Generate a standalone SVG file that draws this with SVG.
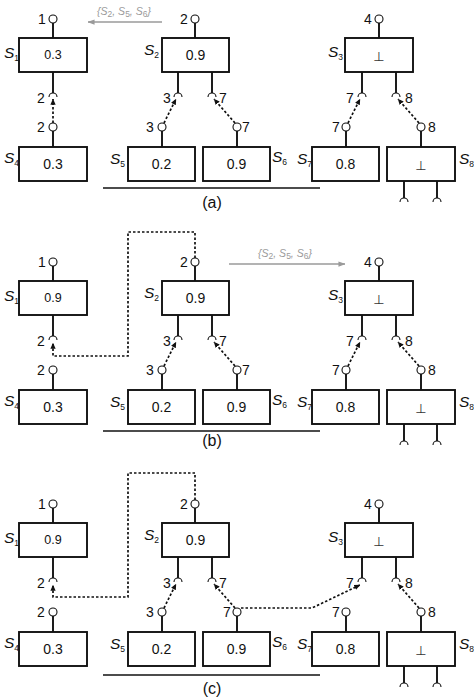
<svg xmlns="http://www.w3.org/2000/svg" width="474" height="700" viewBox="0 0 474 700">
<defs>
<style>
.box{fill:#fff;stroke:#111;stroke-width:1.9}
.wire{stroke:#111;stroke-width:1.9;fill:none}
.sock{fill:#fff;stroke:#111;stroke-width:1.1}
.rec{fill:none;stroke:#111;stroke-width:1.1}
.dot{fill:none;stroke:#111;stroke-width:1.7;stroke-dasharray:2.5 2}
.gray{fill:none;stroke:#9a9a9a;stroke-width:1.5}
.num{font-family:"Liberation Sans",Arial,sans-serif;font-size:14px;fill:#111;text-anchor:middle}
.val{font-family:"Liberation Sans",Arial,sans-serif;font-size:14px;fill:#111;text-anchor:middle}
.val1{font-family:"Liberation Sans",Arial,sans-serif;font-size:12.5px;fill:#111;text-anchor:middle}
.bot{font-family:"DejaVu Sans",sans-serif;font-size:13px;fill:#333;text-anchor:middle}
.sl{font-family:"Liberation Sans",Arial,sans-serif;font-size:15.5px;font-style:italic;fill:#111}
.sub{font-size:8.5px;font-style:normal}
.set{font-family:"Liberation Sans",Arial,sans-serif;font-size:10.5px;font-style:italic;fill:#9a9a9a;text-anchor:middle}
.cap{font-family:"Liberation Sans",Arial,sans-serif;font-size:16px;fill:#111;text-anchor:middle}
.ul{stroke:#111;stroke-width:1.5}
</style>
<marker id="ah" viewBox="0 0 8 8" refX="7.5" refY="4" markerWidth="6" markerHeight="6" markerUnits="userSpaceOnUse" orient="auto"><path d="M0,0.5 L8,4 L0,7.5 Z" fill="#111"/></marker>
<marker id="gh" viewBox="0 0 8 8" refX="7.5" refY="4" markerWidth="7" markerHeight="7" markerUnits="userSpaceOnUse" orient="auto"><path d="M0,1 L8,4 L0,7 Z" fill="#9a9a9a"/></marker>

<g id="n1">
<line class="wire" x1="53" y1="23" x2="53" y2="38"/><circle class="sock" cx="53" cy="19" r="4"/>
<rect class="box" x="19" y="38" width="68" height="34"/>
<line class="wire" x1="53" y1="72" x2="53" y2="93"/><path class="rec" d="M49,97 A4,4 0 0,1 57,97"/>
<text class="num" x="42" y="24">1</text><text class="num" x="41" y="103">2</text>
<text class="sl" x="4" y="58">S<tspan class="sub" dy="3">1</tspan></text>
</g>
<g id="n2">
<line class="wire" x1="195" y1="23" x2="195" y2="38"/><circle class="sock" cx="195" cy="19" r="4"/>
<rect class="box" x="162" y="38" width="67" height="34"/>
<line class="wire" x1="178" y1="72" x2="178" y2="93"/><path class="rec" d="M174,97 A4,4 0 0,1 182,97"/>
<line class="wire" x1="212" y1="72" x2="212" y2="93"/><path class="rec" d="M208,97 A4,4 0 0,1 216,97"/>
<text class="num" x="184" y="24">2</text><text class="num" x="167" y="103">3</text><text class="num" x="223" y="103">7</text>
<text class="sl" x="144" y="55">S<tspan class="sub" dy="3">2</tspan></text>
<text class="val" x="195.5" y="60">0.9</text>
</g>
<g id="n3">
<line class="wire" x1="379" y1="23" x2="379" y2="38"/><circle class="sock" cx="379" cy="19" r="4"/>
<rect class="box" x="345" y="38" width="68" height="34"/>
<line class="wire" x1="362" y1="72" x2="362" y2="93"/><path class="rec" d="M358,97 A4,4 0 0,1 366,97"/>
<line class="wire" x1="396" y1="72" x2="396" y2="93"/><path class="rec" d="M392,97 A4,4 0 0,1 400,97"/>
<text class="num" x="368" y="24">4</text><text class="num" x="350" y="103">7</text><text class="num" x="409" y="103">8</text>
<text class="sl" x="328" y="57">S<tspan class="sub" dy="3">3</tspan></text>
<text class="bot" x="379" y="61">⊥</text>
</g>
<g id="n4">
<line class="wire" x1="53" y1="131" x2="53" y2="147"/><circle class="sock" cx="53" cy="127" r="4"/>
<rect class="box" x="19" y="147" width="68" height="34"/>
<text class="num" x="41" y="132">2</text>
<text class="sl" x="4" y="163">S<tspan class="sub" dy="3">4</tspan></text>
<text class="val" x="53" y="169">0.3</text>
</g>
<g id="n5">
<line class="wire" x1="162" y1="131" x2="162" y2="147"/><circle class="sock" cx="162" cy="127" r="4"/>
<rect class="box" x="128" y="147" width="67" height="34"/>
<text class="num" x="150" y="132">3</text>
<text class="sl" x="110" y="164">S<tspan class="sub" dy="3">5</tspan></text>
<text class="val" x="161.5" y="169">0.2</text>
</g>
<g id="n6">
<line class="wire" x1="237" y1="131" x2="237" y2="147"/><circle class="sock" cx="237" cy="127" r="4"/>
<rect class="box" x="203" y="147" width="67" height="34"/>
<text class="sl" x="272" y="162">S<tspan class="sub" dy="3">6</tspan></text>
<text class="val" x="236.5" y="169">0.9</text>
</g>
<g id="n7">
<line class="wire" x1="346" y1="131" x2="346" y2="147"/><circle class="sock" cx="346" cy="127" r="4"/>
<rect class="box" x="312" y="147" width="67" height="34"/>
<text class="num" x="336" y="132">7</text>
<text class="sl" x="297" y="164">S<tspan class="sub" dy="3">7</tspan></text>
<text class="val" x="345.5" y="169">0.8</text>
</g>
<g id="n8">
<line class="wire" x1="421" y1="131" x2="421" y2="147"/><circle class="sock" cx="421" cy="127" r="4"/>
<rect class="box" x="387" y="147" width="68" height="34"/>
<line class="wire" x1="404" y1="181" x2="404" y2="198"/><path class="rec" d="M400,202 A4,4 0 0,1 408,202"/>
<line class="wire" x1="437" y1="181" x2="437" y2="198"/><path class="rec" d="M433,202 A4,4 0 0,1 441,202"/>
<text class="num" x="432" y="132">8</text>
<text class="sl" x="459" y="164">S<tspan class="sub" dy="3">8</tspan></text>
<text class="bot" x="421" y="170">⊥</text>
</g>
</defs>

<!-- Panel (a) -->
<g id="panel-a">
<g id="a-S1"><use href="#n1"/><text class="val1" x="53" y="59">0.3</text></g>
<g id="a-S2"><use href="#n2"/></g>
<g id="a-S3"><use href="#n3"/></g>
<g id="a-S4"><use href="#n4"/></g>
<g id="a-S5"><use href="#n5"/></g>
<g id="a-S6"><use href="#n6"/><text class="num" x="246" y="132">7</text></g>
<g id="a-S7"><use href="#n7"/></g>
<g id="a-S8"><use href="#n8"/></g>
<g id="a-connectors">
<line class="dot" x1="53" y1="123" x2="53" y2="99" marker-end="url(#ah)"/>
<line class="dot" x1="164" y1="123" x2="176" y2="99" marker-end="url(#ah)"/>
<line class="dot" x1="235" y1="123" x2="214" y2="99" marker-end="url(#ah)"/>
<line class="dot" x1="348" y1="123" x2="360" y2="99" marker-end="url(#ah)"/>
<line class="dot" x1="419" y1="123" x2="398" y2="99" marker-end="url(#ah)"/>
<line class="gray" x1="162" y1="22" x2="88" y2="22" marker-end="url(#gh)"/>
</g>
<text class="set" x="124" y="15">{S<tspan class="sub" dy="2">2</tspan><tspan dy="-2">, S</tspan><tspan class="sub" dy="2">5</tspan><tspan dy="-2">, S</tspan><tspan class="sub" dy="2">6</tspan><tspan dy="-2">}</tspan></text>
<line class="ul" x1="103" y1="188" x2="320" y2="188"/>
<text class="cap" x="212" y="208">(a)</text>
</g>

<!-- Panel (b) -->
<g id="panel-b" transform="translate(0,243)">
<g id="b-S1"><use href="#n1"/><text class="val1" x="53" y="59">0.9</text></g>
<g id="b-S2"><use href="#n2"/></g>
<g id="b-S3"><use href="#n3"/></g>
<g id="b-S4"><use href="#n4"/></g>
<g id="b-S5"><use href="#n5"/></g>
<g id="b-S6"><use href="#n6"/><text class="num" x="246" y="132">7</text></g>
<g id="b-S7"><use href="#n7"/></g>
<g id="b-S8"><use href="#n8"/></g>
<g id="b-connectors">
<path class="dot" d="M195,15 V-11 H128 V113 H53 V100" marker-end="url(#ah)"/>
<line class="dot" x1="164" y1="123" x2="176" y2="99" marker-end="url(#ah)"/>
<line class="dot" x1="235" y1="123" x2="214" y2="99" marker-end="url(#ah)"/>
<line class="dot" x1="348" y1="123" x2="360" y2="99" marker-end="url(#ah)"/>
<line class="dot" x1="419" y1="123" x2="398" y2="99" marker-end="url(#ah)"/>
<line class="gray" x1="229" y1="21" x2="345" y2="21" marker-end="url(#gh)"/>
</g>
<text class="set" x="285" y="14">{S<tspan class="sub" dy="2">2</tspan><tspan dy="-2">, S</tspan><tspan class="sub" dy="2">5</tspan><tspan dy="-2">, S</tspan><tspan class="sub" dy="2">6</tspan><tspan dy="-2">}</tspan></text>
<line class="ul" x1="103" y1="188" x2="320" y2="188"/>
<text class="cap" x="212" y="203">(b)</text>
</g>

<!-- Panel (c) -->
<g id="panel-c" transform="translate(0,485)">
<g id="c-S1"><use href="#n1"/><text class="val1" x="53" y="59">0.9</text></g>
<g id="c-S2"><use href="#n2"/></g>
<g id="c-S3"><use href="#n3"/></g>
<g id="c-S4"><use href="#n4"/></g>
<g id="c-S5"><use href="#n5"/></g>
<g id="c-S6"><use href="#n6"/><text class="num" x="227" y="132">7</text></g>
<g id="c-S7"><use href="#n7"/></g>
<g id="c-S8"><use href="#n8"/></g>
<g id="c-connectors">
<path class="dot" d="M195,15 V-12 H128 V112 H53 V100" marker-end="url(#ah)"/>
<line class="dot" x1="164" y1="123" x2="176" y2="99" marker-end="url(#ah)"/>
<line class="dot" x1="235" y1="123" x2="214" y2="99" marker-end="url(#ah)"/>
<path class="dot" d="M241,123 H312 L360,100" marker-end="url(#ah)"/>
<line class="dot" x1="419" y1="123" x2="398" y2="99" marker-end="url(#ah)"/>
</g>
<line class="ul" x1="103" y1="190" x2="320" y2="190"/>
<text class="cap" x="212" y="209">(c)</text>
</g>
</svg>
